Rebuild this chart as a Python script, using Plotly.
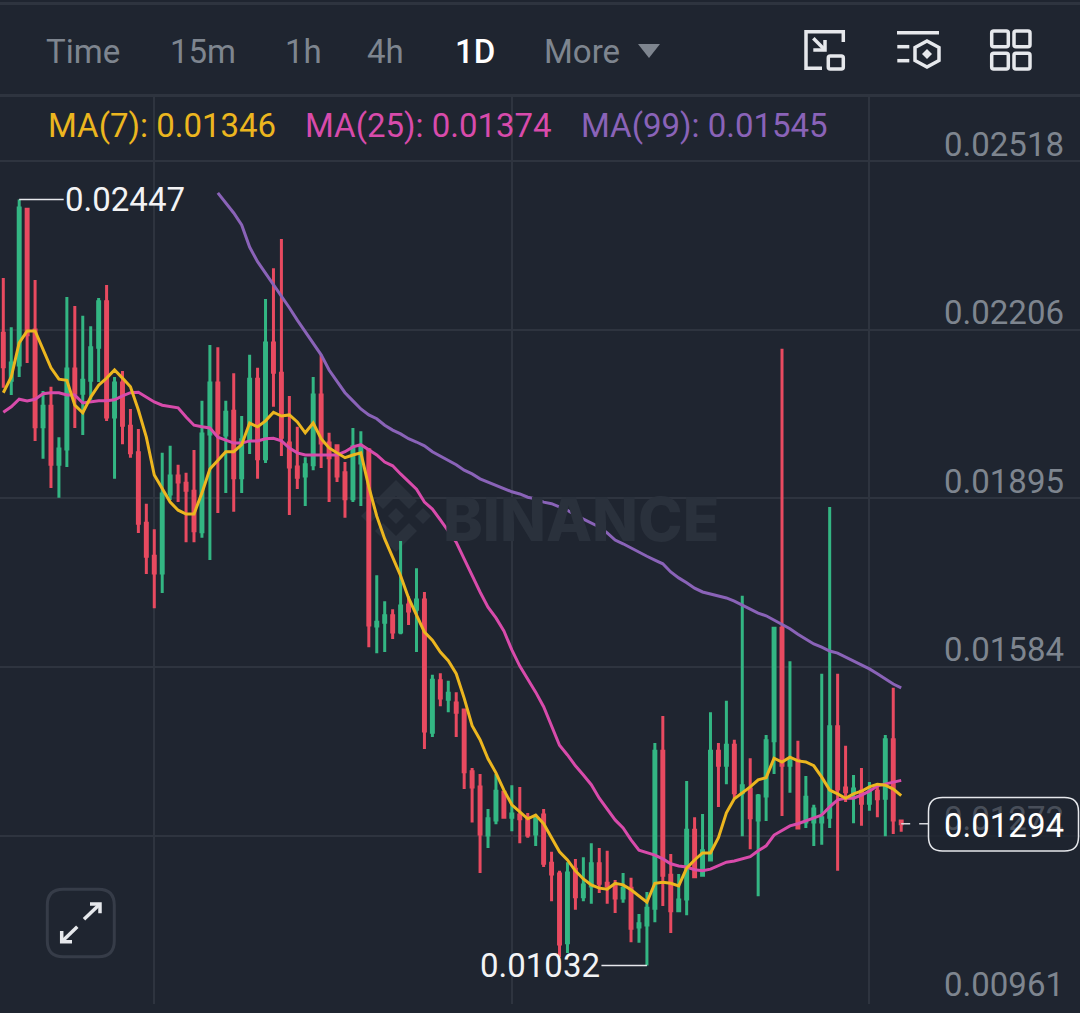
#!/usr/bin/env python
# -*- coding: utf-8 -*-
import plotly.graph_objs as go

# prices below are in units of 0.00001
PRICE_UNIT = 0.00001

opens = [
    2200, 2113, 2141, 2429, 2206, 2027, 2065, 1958, 1986, 2134,
    2089, 2113, 2174, 2258, 2045, 2108, 2028, 1979, 1849, 1788,
    1757, 1903, 1936, 1923, 1908, 1833, 2014, 2108, 2012, 2056,
    1933, 2003, 2115, 1968, 2182, 2126, 1997, 1953, 1936, 1957,
    2086, 1997, 1992, 1942, 1894, 1960, 1984, 1659, 1666, 1678,
    1648, 1698, 1690, 1707, 1463, 1558, 1524, 1517, 1504, 1390,
    1362, 1273, 1301, 1352, 1306, 1310, 1305, 1275, 1310, 1221,
    1201, 1074, 1210, 1159, 1179, 1220, 1184, 1179, 1157, 1175,
    1103, 1107, 1138, 1428, 1199, 1133, 1155, 1282, 1199, 1227,
    1428, 1402, 1439, 1351, 1358, 1301, 1345, 1447, 1655, 1402,
    1411, 1297, 1297, 1297, 1306, 1473, 1360, 1351, 1354, 1332,
    1354, 1341, 1449, 1299,
]
highs = [
    2302, 2211, 2447, 2429, 2298, 2093, 2101, 2008, 2267, 2250,
    2232, 2213, 2265, 2289, 2119, 2130, 2060, 2023, 1885, 1838,
    1979, 1992, 1957, 1942, 1984, 2075, 2178, 2174, 2075, 2126,
    2047, 2160, 2136, 2263, 2320, 2374, 2084, 2027, 1971, 2119,
    2160, 2016, 1992, 1962, 2025, 2019, 1988, 1753, 1705, 1690,
    1816, 1714, 1766, 1722, 1569, 1572, 1558, 1537, 1504, 1397,
    1386, 1321, 1386, 1352, 1365, 1362, 1314, 1312, 1321, 1242,
    1207, 1223, 1229, 1232, 1258, 1249, 1244, 1190, 1203, 1194,
    1127, 1168, 1443, 1493, 1238, 1201, 1373, 1306, 1312, 1500,
    1443, 1521, 1449, 1715, 1415, 1349, 1458, 1655, 2171, 1594,
    1447, 1382, 1329, 1571, 1879, 1571, 1438, 1384, 1397, 1371,
    1367, 1458, 1545, 1301,
]
lows = [
    2099, 2086, 2119, 2145, 2001, 1968, 1914, 1896, 1953, 2025,
    2012, 2077, 2110, 2038, 1931, 1995, 1970, 1831, 1755, 1692,
    1720, 1892, 1888, 1814, 1814, 1822, 1781, 1868, 1905, 1870,
    1905, 1977, 1931, 1960, 2064, 1973, 1864, 1912, 1881, 1947,
    1951, 1888, 1925, 1859, 1888, 1881, 1620, 1609, 1611, 1635,
    1644, 1661, 1611, 1432, 1454, 1511, 1500, 1454, 1358, 1296,
    1203, 1249, 1293, 1305, 1280, 1258, 1268, 1253, 1214, 1151,
    1048, 1055, 1135, 1151, 1146, 1166, 1146, 1129, 1148, 1075,
    1074, 1032, 1112, 1142, 1092, 1133, 1125, 1196, 1199, 1227,
    1325, 1367, 1340, 1271, 1247, 1160, 1299, 1386, 1308, 1351,
    1286, 1286, 1253, 1255, 1286, 1207, 1334, 1295, 1290, 1318,
    1306, 1271, 1275, 1279,
]
closes = [
    2138, 2145, 2431, 2197, 2027, 2065, 1958, 1986, 2134, 2089,
    2113, 2173, 2258, 2045, 2108, 2030, 1979, 1849, 1788, 1757,
    1903, 1936, 1925, 1910, 1835, 2014, 2108, 2016, 2054, 1933,
    2003, 2115, 1968, 2182, 2128, 2008, 1953, 1934, 1957, 2086,
    1997, 1970, 1936, 1894, 1990, 1990, 1661, 1666, 1678, 1648,
    1696, 1687, 1707, 1465, 1559, 1526, 1535, 1500, 1390, 1362,
    1275, 1303, 1354, 1306, 1312, 1303, 1273, 1305, 1221, 1201,
    1072, 1203, 1159, 1181, 1220, 1184, 1179, 1157, 1175, 1101,
    1109, 1138, 1428, 1199, 1133, 1153, 1282, 1196, 1244, 1428,
    1402, 1439, 1351, 1364, 1305, 1345, 1447, 1655, 1402, 1411,
    1286, 1343, 1321, 1305, 1473, 1358, 1353, 1358, 1332, 1353,
    1340, 1449, 1301, 1294,
]
ma7 = [
    2090, 2119, 2182, 2204, 2204, 2169, 2136, 2115, 2113, 2067,
    2053, 2082, 2104, 2117, 2132, 2117, 2101, 2058, 2008, 1938,
    1914, 1888, 1873, 1866, 1866, 1905, 1949, 1966, 1981, 1981,
    1994, 2034, 2027, 2038, 2054, 2047, 2049, 2036, 2016, 2034,
    2005, 1988, 1979, 1970, 1975, 1979, 1916, 1862, 1820, 1787,
    1752, 1711, 1678, 1648, 1633, 1611, 1595, 1571, 1526, 1475,
    1449, 1414, 1388, 1356, 1329, 1316, 1303, 1310, 1294, 1268,
    1242, 1227, 1207, 1192, 1181, 1175, 1173, 1184, 1181, 1172,
    1161, 1149, 1184, 1186, 1184, 1179, 1212, 1227, 1240, 1240,
    1268, 1314, 1340, 1351, 1362, 1375, 1379, 1415, 1408, 1417,
    1410, 1408, 1401, 1380, 1356, 1349, 1341, 1349, 1354, 1362,
    1367, 1365, 1358, 1346,
]
ma25 = [
    2054, 2064, 2078, 2075, 2078, 2088, 2090, 2090, 2086, 2086,
    2071, 2073, 2075, 2075, 2077, 2084, 2090, 2091, 2082, 2073,
    2067, 2065, 2062, 2045, 2030, 2027, 2025, 2008, 2003, 1997,
    1997, 2001, 2001, 2005, 2006, 2001, 1988, 1979, 1975, 1975,
    1975, 1975, 1975, 1981, 1990, 1994, 1984, 1975, 1962, 1955,
    1940, 1925, 1912, 1888, 1875, 1855, 1835, 1814, 1783, 1752,
    1722, 1694, 1674, 1650, 1615, 1585, 1561, 1537, 1510, 1475,
    1439, 1421, 1401, 1384, 1366, 1341, 1321, 1301, 1286, 1264,
    1245, 1240, 1236, 1229, 1220, 1216, 1214, 1209, 1207, 1210,
    1216, 1223, 1225, 1229, 1233, 1244, 1253, 1273, 1282, 1290,
    1294, 1299, 1305, 1310, 1325, 1338, 1341, 1341, 1347, 1354,
    1364, 1367, 1371, 1374,
]
# MA(99) only starts at candle 27
MA99_START = 27
ma99 = [
    2459, 2440, 2422,
    2400, 2359, 2332, 2311, 2289, 2267, 2247, 2224, 2202, 2182,
    2160, 2132, 2110, 2090, 2075, 2060, 2049, 2042, 2030, 2021,
    2014, 2005, 1999, 1992, 1981, 1973, 1964, 1957, 1947, 1940,
    1931, 1925, 1918, 1912, 1907, 1903, 1897, 1894, 1888, 1885,
    1879, 1873, 1864, 1857, 1849, 1842, 1831, 1818, 1811, 1803,
    1796, 1788, 1781, 1774, 1759, 1748, 1739, 1729, 1722, 1718,
    1714, 1711, 1705, 1698, 1690, 1683, 1678, 1670, 1663, 1654,
    1644, 1635, 1626, 1620, 1613, 1609, 1602, 1595, 1587, 1580,
    1571, 1561, 1552, 1545,
]

price_ticks = ["0.00961", "0.01272", "0.01584", "0.01895", "0.02206", "0.02518"]
time_ticks = [19, 64, 109]
period_labels = ["Time", "15m", "1h", "4h", "1D", "More"]
ma_labels = ["MA(7): 0.01346", "MA(25): 0.01374", "MA(99): 0.01545"]
HIGH_IDX, HIGH_LABEL = 2, "0.02447"
LOW_IDX, LOW_LABEL = 81, "0.01032"
LAST_LABEL = "0.01294"

W, H = 1080, 1013
BG = "#1f2530"
GRID = "#2e343f"
GREEN = "#33b683"
RED = "#e84a60"
YELLOW = "#ecb61f"
PINK = "#d84bab"
PURPLE = "#8a63b8"
GREY = "#7e858f"
ICON = "#e6e8ec"
FONT = "Roboto"
TEXT_SIZE = 33


def px(x):
    return x / W


def py(y):
    return 1 - y / H


def scaled(values):
    return [round(v * PRICE_UNIT, 5) for v in values]


def path(points, close=False):
    text = "M " + " L ".join(f"{px(x):.5f},{py(y):.5f}" for x, y in points)
    return text + (" Z" if close else "")


def stroke(points, color=ICON, width=3.5, close=False, layer="above"):
    return dict(type="path", xref="paper", yref="paper", path=path(points, close), layer=layer,
                line=dict(color=color, width=width), fillcolor="rgba(0,0,0,0)")


def solid(points, color, layer="above"):
    return dict(type="path", xref="paper", yref="paper", path=path(points, True), layer=layer,
                line=dict(width=0), fillcolor=color)


def rounded(x0, y0, x1, y1, r, color=ICON, width=3.5, fill="rgba(0,0,0,0)"):
    d = (f"M {px(x0 + r):.5f},{py(y0):.5f} L {px(x1 - r):.5f},{py(y0):.5f} "
         f"Q {px(x1):.5f},{py(y0):.5f} {px(x1):.5f},{py(y0 + r):.5f} "
         f"L {px(x1):.5f},{py(y1 - r):.5f} Q {px(x1):.5f},{py(y1):.5f} {px(x1 - r):.5f},{py(y1):.5f} "
         f"L {px(x0 + r):.5f},{py(y1):.5f} Q {px(x0):.5f},{py(y1):.5f} {px(x0):.5f},{py(y1 - r):.5f} "
         f"L {px(x0):.5f},{py(y0 + r):.5f} Q {px(x0):.5f},{py(y0):.5f} {px(x0 + r):.5f},{py(y0):.5f} Z")
    return dict(type="path", xref="paper", yref="paper", path=d, layer="above",
                line=dict(color=color, width=width), fillcolor=fill)


def label(text, x, y, color, size=TEXT_SIZE, anchor="left", weight=400, family=FONT):
    return dict(text=text, xref="paper", yref="paper", x=px(x), y=py(y), xanchor=anchor, yanchor="middle",
                showarrow=False, font=dict(family=family, size=size, color=color, weight=weight))


candle_x = list(range(len(opens)))

fig = go.Figure()
fig.add_trace(go.Candlestick(
    x=candle_x, open=scaled(opens), high=scaled(highs), low=scaled(lows), close=scaled(closes),
    increasing=dict(line=dict(color=GREEN, width=3), fillcolor=GREEN),
    decreasing=dict(line=dict(color=RED, width=3), fillcolor=RED),
    whiskerwidth=0, showlegend=False, hoverinfo="skip",
))
fig.add_trace(go.Scatter(x=candle_x[MA99_START:], y=scaled(ma99), mode="lines",
                         line=dict(color=PURPLE, width=3), showlegend=False))
fig.add_trace(go.Scatter(x=candle_x, y=scaled(ma25), mode="lines",
                         line=dict(color=PINK, width=3), showlegend=False))
fig.add_trace(go.Scatter(x=candle_x, y=scaled(ma7), mode="lines",
                         line=dict(color=YELLOW, width=3), showlegend=False))

shapes = []
# header separators
shapes.append(dict(type="line", xref="paper", yref="paper", x0=0, x1=1, y0=py(3.5), y1=py(3.5),
                   line=dict(color=GRID, width=3)))
shapes.append(dict(type="line", xref="paper", yref="paper", x0=0, x1=1, y0=py(95.5), y1=py(95.5),
                   line=dict(color=GRID, width=3)))
# watermark logo
WM = "#2a313c"
cx, cy = 396, 516
shapes.append(solid([(cx + a, cy + b) for a, b in [(0, -36), (21, -15), (13, -7), (0, -20), (-13, -7), (-21, -15)]], WM, "below"))
shapes.append(solid([(cx + a, cy - b) for a, b in [(0, -36), (21, -15), (13, -7), (0, -20), (-13, -7), (-21, -15)]], WM, "below"))
for off in (-27, 0, 27):
    shapes.append(solid([(cx + off, cy - 8), (cx + off + 8, cy), (cx + off, cy + 8), (cx + off - 8, cy)], WM, "below"))
# dropdown triangle
shapes.append(solid([(638, 44), (660, 44), (649, 58)], "#7e858f"))
# first icon
shapes.append(stroke([(843.3, 42), (843.3, 31.7), (806, 31.7), (806, 68.3), (822, 68.3)]))
shapes.append(stroke([(813.3, 38.3), (825, 50)]))
shapes.append(stroke([(813.3, 50), (825, 50), (825, 40)]))
shapes.append(rounded(828.3, 56, 843.3, 69, 2))
# second icon
shapes.append(stroke([(897, 32.7), (939, 32.7)]))
shapes.append(stroke([(897.3, 46.7), (909.3, 46.7)]))
shapes.append(stroke([(897.3, 60.7), (909.3, 60.7)]))
shapes.append(stroke([(927, 41), (939, 47.5), (939, 60.5), (927, 67), (915, 60.5), (915, 47.5)], close=True))
shapes.append(solid([(927, 49), (932, 54), (927, 59), (922, 54)], ICON))
# third icon
for x0, x1 in ((991.7, 1008.3), (1014, 1030)):
    for y0, y1 in ((31, 46.7), (53.3, 69)):
        shapes.append(rounded(x0, y0, x1, y1, 2))
# expand button
shapes.append(rounded(47.3, 889.3, 114.3, 956.7, 16, color="#363c48", width=3))
shapes.append(stroke([(84, 919.3), (100, 904)]))
shapes.append(stroke([(90, 904), (100, 904), (100, 913.3)]))
shapes.append(stroke([(77.3, 926.7), (61.7, 941.7)]))
shapes.append(stroke([(61.7, 931), (61.7, 941.7), (72, 941.7)]))
# last price guide and box
last_price = closes[-1] * PRICE_UNIT
shapes.append(dict(type="line", xref="x", yref="y", x0=candle_x[-1], x1=(928 - 3.3) / 7.946,
                   y0=last_price, y1=last_price, line=dict(color="#d5d7db", width=1.5, dash="dash")))
shapes.append(rounded(928.5, 797.5, 1078.5, 851, 14, color="#e6e8ec", width=1.5, fill="rgba(31,37,48,0.82)"))

annotations = []
for i, text in enumerate(period_labels):
    x = [44, 168, 283, 365, 453, 542][i]
    annotations.append(label(text, x, 52, "#ffffff" if text == "1D" else GREY, weight=500 if text == "1D" else 400))
for text, x, color in zip(ma_labels, (46, 303, 579), (YELLOW, PINK, PURPLE)):
    annotations.append(label(text, x, 126, color))
for text in price_ticks:
    y_val = float(text)
    # sits under the last price box
    color = "rgba(126,133,143,0.45)" if text == "0.01272" else GREY
    annotations.append(dict(text=text, xref="paper", yref="y", x=px(1066), y=y_val, xanchor="right", yanchor="middle",
                            yshift=20 if text == "0.00961" else 17, showarrow=False,
                            font=dict(family=FONT, size=TEXT_SIZE, color=color)))
annotations.append(label(LAST_LABEL, 1003.5, 825, "#ffffff", anchor="center"))
annotations.append(label("BINANCE", 581, 519, WM, size=60, anchor="center", weight=800, family="Inter"))
annotations.append(dict(x=HIGH_IDX, y=highs[HIGH_IDX] * PRICE_UNIT, xref="x", yref="y", text=HIGH_LABEL, showarrow=True,
                        arrowhead=0, arrowwidth=1.5, arrowcolor="#e6e8ec", standoff=0, startstandoff=0, ax=106, ay=0,
                        font=dict(family=FONT, size=TEXT_SIZE, color="#f2f3f5")))
annotations.append(dict(x=LOW_IDX, y=lows[LOW_IDX] * PRICE_UNIT, xref="x", yref="y", text=LOW_LABEL, showarrow=True,
                        arrowhead=0, arrowwidth=1.5, arrowcolor="#e6e8ec", standoff=0, startstandoff=0, ax=-107, ay=0,
                        font=dict(family=FONT, size=TEXT_SIZE, color="#f2f3f5")))

fig.update_layout(
    width=W, height=H, margin=dict(l=0, r=0, t=0, b=0), paper_bgcolor=BG, plot_bgcolor=BG,
    boxgap=0.65, showlegend=False, shapes=shapes, annotations=annotations,
    xaxis=dict(domain=[0, 1], range=[-3.3 / 7.946, (W - 3.3) / 7.946], tickvals=time_ticks, showticklabels=False,
               showgrid=True, gridcolor=GRID, gridwidth=1.5, zeroline=False, rangeslider=dict(visible=False), ticks=""),
    yaxis=dict(domain=[py(1004), py(97)], range=[0.00961, 0.026362], tickvals=[float(t) for t in price_ticks],
               showticklabels=False, showgrid=True, gridcolor=GRID, gridwidth=1.5, zeroline=False, ticks=""),
)
fig.write_html("out.html", config=dict(displayModeBar=False),
               post_script="document.body.style.margin='0';")
